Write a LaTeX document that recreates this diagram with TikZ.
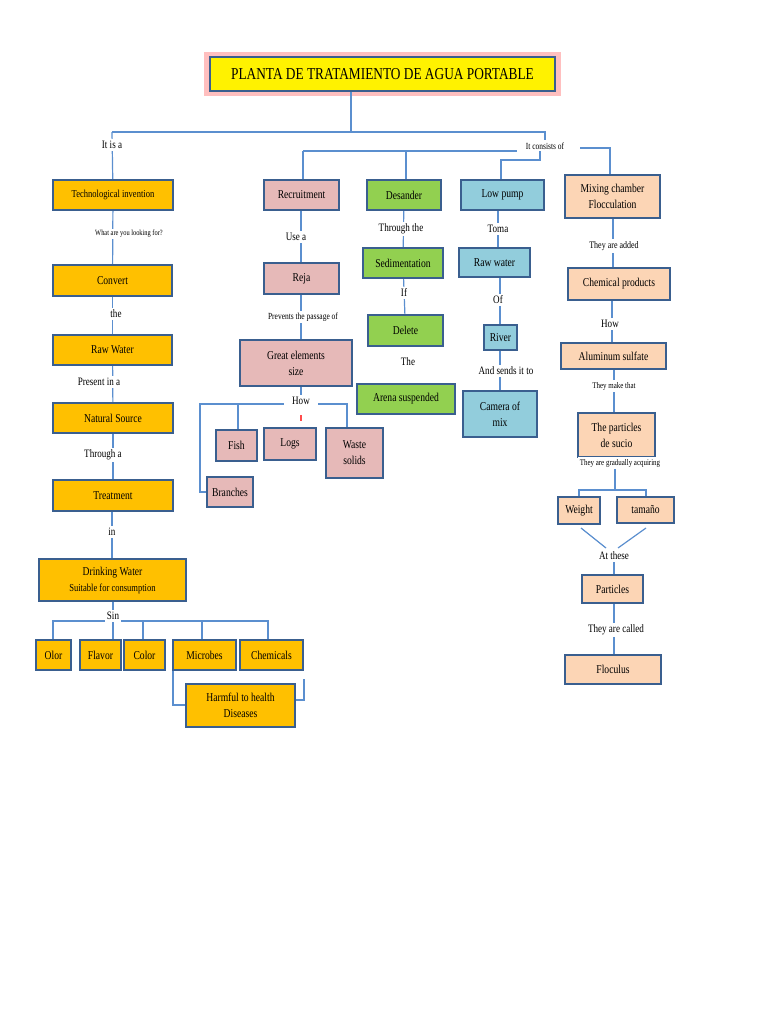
\documentclass[tikz,border=0pt]{standalone}
\usepackage{fontspec}
\setmainfont{Liberation Serif}[FakeStretch=0.8]
\definecolor{org}{HTML}{FFC000}
\definecolor{pnk}{HTML}{E6B9B8}
\definecolor{grn}{HTML}{92D050}
\definecolor{blu}{HTML}{92CDDC}
\definecolor{pch}{HTML}{FCD5B5}
\definecolor{bord}{HTML}{3A5F8F}
\definecolor{lnc}{HTML}{5B8FCF}
\tikzset{
 bx/.style={draw=bord,line width=1.6pt,inner sep=1pt,align=center,font=\fontsize{9}{12}\selectfont},
 ln/.style={draw=lnc,line width=0.9pt},
 lbl/.style={fill=white,inner sep=1.5pt,font=\fontsize{8.5}{10}\selectfont},
 tiny/.style={fill=white,inner sep=1pt,font=\fontsize{6}{7}\selectfont}
}
\newcommand\bx[7]{\node[bx,#2,minimum width={(#5-#3)*0.75pt},minimum height={(#6-#4)*0.75pt}] (#1) at ({(#3+#5)/2},{(#4+#6)/2}) {#7};}
\begin{document}
\begin{tikzpicture}[x=0.75pt,y=-0.75pt]
\useasboundingbox (0,0) rectangle (768,1024);
\fill[white] (0,0) rectangle (768,1024);
% title
\fill[red!25] (204,52) rectangle (561,96);
\bx{title}{fill=yellow}{210}{57}{555}{91}{\fontsize{12.5}{14}\selectfont PLANTA DE TRATAMIENTO DE AGUA PORTABLE}
% top connectors
\coordinate (t1) at (351,132);
\coordinate (tl) at (112,132);
\coordinate (tr) at (545,132);
\draw[ln] (title.south -| t1) -- (t1) (tl) -- (tr) -- (545,140);
% left column
\bx{tech}{fill=org}{53}{180}{173}{210}{\fontsize{8}{10}\selectfont Technological invention}
\draw[ln] (tl) -- (tech);
\node[lbl] (l1) at (112,145) {It is a};
\bx{convert}{fill=org}{53}{265}{172}{296}{Convert}
\draw[ln] (tech) -- (convert);
\node[tiny] (l2) at (129,234) {What are you looking for?};
\bx{raw}{fill=org}{53}{335}{172}{365}{Raw Water}
\draw[ln] (convert) -- (raw);
\node[lbl] (l3) at (116,314) {the};
\bx{natural}{fill=org}{53}{403}{173}{433}{Natural Source}
\draw[ln] (raw) -- (natural);
\node[lbl] (l4) at (99,382) {Present in a};
\bx{treat}{fill=org}{53}{480}{173}{511}{Treatment}
\draw[ln] (natural) -- (treat);
\node[lbl] (l5) at (103,455) {Through a};
\bx{drink}{fill=org}{39}{559}{186}{601}{Drinking Water\\\fontsize{8}{10}\selectfont Suitable for consumption}
\draw[ln] (treat.south -| 112,0) -- (drink.north -| 112,0);
\node[lbl] (l6) at (112,532) {in};
\bx{olor}{fill=org}{36}{640}{71}{670}{Olor}
\bx{flavor}{fill=org}{80}{640}{121}{670}{Flavor}
\bx{color}{fill=org}{124}{640}{165}{670}{Color}
\bx{microbes}{fill=org}{173}{640}{236}{670}{Microbes}
\bx{chems}{fill=org}{240}{640}{303}{670}{Chemicals}
\bx{harm}{fill=org}{186}{684}{295}{727}{Harmful to health\\Diseases}
\coordinate (s1) at (53,621);
\coordinate (s2) at (268,621);
\draw[ln] (drink.south -| 113,0) -- (113,621) -- (flavor.north -| 113,0);
\draw[ln] (olor.north -| s1) -- (s1) -- (113,621) -- (s2) -- (chems.north -| s2);
\draw[ln] (143,621) -- (color.north -| 143,0);
\draw[ln] (202,621) -- (microbes.north -| 202,0);
\node[lbl,fill=white] (sin) at (113,616) {Sin};
\draw[ln] (microbes.south west) ++(1,0) |- (harm.west |- 0,705);
\draw[ln] (chems.south east) ++(0,8) |- (harm.east |- 0,700);
% pink column
\coordinate (b1) at (303,151);
\coordinate (b2) at (406,151);
\coordinate (b3) at (517,151);
\bx{recr}{fill=pnk}{264}{180}{339}{210}{Recruitment}
\bx{reja}{fill=pnk}{264}{263}{339}{294}{Reja}
\bx{great}{fill=pnk}{240}{340}{352}{386}{Great elements\\size}
\bx{fish}{fill=pnk}{216}{430}{257}{461}{Fish}
\bx{logs}{fill=pnk}{264}{428}{316}{460}{Logs}
\bx{waste}{fill=pnk}{326}{428}{383}{478}{Waste\\solids}
\bx{branch}{fill=pnk}{207}{477}{253}{507}{Branches}
\draw[ln] (b1) -- (b3);
\draw[ln] (b1) -- (recr.north -| b1);
\draw[ln] (recr.south -| 301,0) -- (reja.north -| 301,0);
\node[lbl] (l7) at (296,237) {Use a};
\draw[ln] (reja.south -| 301,0) -- (great.north -| 301,0);
\node[lbl,font=\fontsize{7}{8}\selectfont] (l8) at (303,317) {Prevents the passage of};
\coordinate (h1) at (200,404);
\coordinate (h2) at (347,404);
\draw[ln] (great.south -| 301,0) -- (301,404);
\draw[ln] (branch.west |- 0,492) -| (h1) -- (h2) -- (waste.north -| h2);
\draw[ln] (238,404) -- (fish.north -| 238,0);
\node[lbl,inner xsep=6pt] (how1) at (301,401) {How};
\draw[red!70,line width=0.9pt] (301,415) -- (301,421);
% green column
\bx{desand}{fill=grn}{367}{180}{441}{210}{Desander}
\bx{sedim}{fill=grn}{363}{248}{443}{278}{Sedimentation}
\bx{delete}{fill=grn}{368}{315}{443}{346}{Delete}
\bx{arena}{fill=grn}{357}{384}{455}{414}{Arena suspended}
\draw[ln] (b2) -- (desand.north -| b2);
\draw[ln] (desand) -- (sedim);
\node[lbl] (l9) at (401,229) {Through the};
\draw[ln] (sedim) -- (delete);
\node[lbl] (l10) at (404,293) {If};
\node[lbl] (l11) at (408,362) {The};
% blue column
\bx{lowp}{fill=blu}{461}{180}{544}{210}{Low pump}
\bx{raww}{fill=blu}{459}{248}{530}{277}{Raw water}
\bx{river}{fill=blu}{484}{325}{517}{350}{River}
\bx{camera}{fill=blu}{463}{391}{537}{437}{Camera of\\mix}
\draw[ln] (540,146) -- (540,160) -- (501,160) -- (lowp.north -| 501,0);
\node[lbl,font=\fontsize{7}{8}\selectfont] (cons) at (545,146) {It consists of};
\draw[ln] (580,148) -- (610,148) -- (610,175);
\draw[ln] (lowp.south -| 498,0) -- (raww.north -| 498,0);
\node[lbl] (l12) at (498,229) {Toma};
\draw[ln] (raww.south -| 500,0) -- (river.north -| 500,0);
\node[lbl] (l13) at (498,300) {Of};
\draw[ln] (river.south -| 500,0) -- (camera.north -| 500,0);
\node[lbl] (l14) at (506,371) {And sends it to};
% peach column
\bx{mixing}{fill=pch}{565}{175}{660}{218}{Mixing chamber\\Flocculation}
\bx{chemp}{fill=pch}{568}{268}{670}{300}{Chemical products}
\bx{alum}{fill=pch}{561}{343}{666}{369}{Aluminum sulfate}
\bx{parts}{fill=pch}{578}{413}{655}{457}{The particles\\de sucio}
\bx{weight}{fill=pch}{558}{497}{600}{524}{Weight}
\bx{tamano}{fill=pch}{617}{497}{674}{523}{tamaño}
\bx{parts2}{fill=pch}{582}{575}{643}{603}{Particles}
\bx{flocu}{fill=pch}{565}{655}{661}{684}{Floculus}
\draw[ln] (mixing.south -| 613,0) -- (chemp.north -| 613,0);
\node[lbl,font=\fontsize{7.5}{9}\selectfont] (l15) at (614,246) {They are added};
\draw[ln] (chemp.south -| 612,0) -- (alum.north -| 612,0);
\node[lbl] (l16) at (610,324) {How};
\draw[ln] (alum.south -| 614,0) -- (parts.north -| 614,0);
\node[lbl,font=\fontsize{6.5}{8}\selectfont] (l17) at (614,386) {They make that};
\draw[ln] (parts.south -| 615,0) -- (615,490);
\draw[ln] (weight.north -| 579,0) -- (579,490) -- (646,490) -- (tamano.north -| 646,0);
\node[lbl,font=\fontsize{6.5}{8}\selectfont] (l18) at (620,463) {They are gradually acquiring};
\draw[ln] (581,528) -- (606,548);
\draw[ln] (646,528) -- (618,548);
\draw[ln] (614,562) -- (parts2.north -| 614,0);
\node[lbl] (l19) at (614,556) {At these};
\draw[ln] (parts2.south -| 614,0) -- (flocu.north -| 614,0);
\node[lbl] (l20) at (616,630) {They are called};
\end{tikzpicture}
\end{document}
